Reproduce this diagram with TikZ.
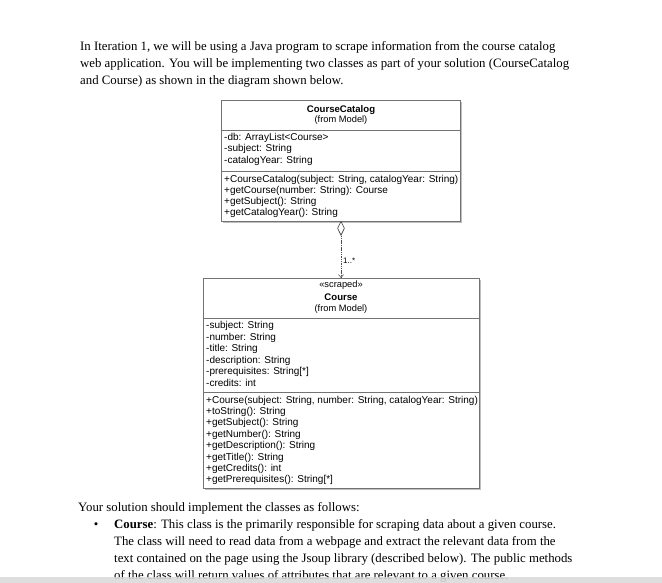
\documentclass[tikz,border=0pt]{standalone}
\usepackage{fontspec}
\setmainfont{Liberation Serif}
\newfontfamily\umlfont{Liberation Sans}
\usetikzlibrary{shapes.geometric,arrows.meta,shadows}
\begin{document}
\begin{tikzpicture}[x=1pt,y=-1pt,
  para/.style={anchor=base west,inner sep=0pt,font=\fontsize{12.8}{15}\selectfont},
  umlbox/.style={draw=black!55,line width=0.9pt,fill=white,anchor=north west,inner sep=0pt,
     drop shadow={shadow xshift=1.2pt,shadow yshift=-1.2pt,opacity=0.25,fill=black}},
  sep/.style={draw=black!55,line width=0.9pt},
  mem/.style={anchor=west,inner sep=0pt,font=\umlfont\fontsize{10}{11}\selectfont},
  head/.style={anchor=center,inner sep=0pt,font=\umlfont\fontsize{9.3}{10}\selectfont},
  headb/.style={anchor=center,inner sep=0pt,font=\umlfont\bfseries\fontsize{9.6}{10}\selectfont},
  agg/.style={draw=black!80,fill=white,shape=diamond,inner sep=0pt,minimum width=7,minimum height=14,line width=0.6pt},
  link/.style={draw=black!70,line width=0.6pt,dashed,dash pattern=on 1.5pt off 0.8pt,-{Straight Barb[length=3pt,width=5pt]}}
]
\useasboundingbox[fill=white] (0,0) rectangle (662,583);
% intro
\node[para] (p1) at (80,51) {In Iteration 1, we will be using a Java program to scrape information from the course catalog};
\node[para] (p2) at (80,68) {web application. You will be implementing two classes as part of your solution (CourseCatalog};
\node[para] (p3) at (80,85) {and Course) as shown in the diagram shown below.};
% CourseCatalog box
\node[umlbox,minimum width=239,minimum height=121] (cc) at (221,100) {};
\draw[sep] (221,130) -- (460,130);
\draw[sep] (221,171) -- (460,171);
\node[headb] (cct) at (341,110.5) {CourseCatalog};
\node[head] (ccm) at (341,120.5) {(from Model)};
\node[mem] (a1) at (224,138) {-db: ArrayList<Course>};
\node[mem] (a2) at (224,149) {-subject: String};
\node[mem] (a3) at (224,160.5) {-catalogYear: String};
\node[mem] (m1) at (224,180) {+CourseCatalog(subject: String, catalogYear: String)};
\node[mem] (m2) at (224,191) {+getCourse(number: String): Course};
\node[mem] (m3) at (224,202) {+getSubject(): String};
\node[mem] (m4) at (224,213) {+getCatalogYear(): String};
% Course box
\node[umlbox,minimum width=276,minimum height=210] (co) at (203,278) {};
\draw[sep] (203,318) -- (479,318);
\draw[sep] (203,392) -- (479,392);
\node[head] (cst) at (341,285.5) {«scraped»};
\node[headb] (cot) at (341,297) {Course};
\node[head] (com) at (341,309.5) {(from Model)};
\node[mem] (b1) at (206,326) {-subject: String};
\node[mem] (b2) at (206,337.5) {-number: String};
\node[mem] (b3) at (206,349) {-title: String};
\node[mem] (b4) at (206,360.5) {-description: String};
\node[mem] (b5) at (206,372) {-prerequisites: String[*]};
\node[mem] (b6) at (206,383) {-credits: int};
\node[mem] (n1) at (206,400.5) {+Course(subject: String, number: String, catalogYear: String)};
\node[mem] (n2) at (206,412) {+toString(): String};
\node[mem] (n3) at (206,423) {+getSubject(): String};
\node[mem] (n4) at (206,434.5) {+getNumber(): String};
\node[mem] (n5) at (206,446) {+getDescription(): String};
\node[mem] (n6) at (206,457.5) {+getTitle(): String};
\node[mem] (n7) at (206,469) {+getCredits(): int};
\node[mem] (n8) at (206,480) {+getPrerequisites(): String[*]};
% association
\node[agg,anchor=north] (dia) at (341,221) {};
\draw[link] (dia.south) -- (dia.south |- co.north);
\node[anchor=west,inner sep=0pt,font=\umlfont\fontsize{8}{9}\selectfont] (mult) at (343,261) {1..*};
% bottom text
\node[para] (q0) at (78,511) {Your solution should implement the classes as follows:};
\node[anchor=base,inner sep=0pt,font=\fontsize{12.8}{15}\selectfont] (bul) at (96,528) {\textbullet};
\node[para] (q1) at (114,528) {\textbf{Course}: This class is the primarily responsible for scraping data about a given course.};
\node[para] (q2) at (114,545) {The class will need to read data from a webpage and extract the relevant data from the};
\node[para] (q3) at (114,562) {text contained on the page using the Jsoup library (described below). The public methods};
\node[para] (q4) at (114,579) {of the class will return values of attributes that are relevant to a given course.};
\fill[black!15,opacity=0.85] (0,577) rectangle (662,583);
\end{tikzpicture}
\end{document}
